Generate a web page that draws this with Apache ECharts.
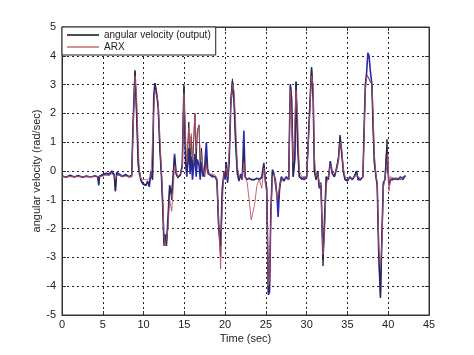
<!DOCTYPE html>
<html>
<head>
<meta charset="utf-8">
<script src="https://cdn.jsdelivr.net/npm/echarts@6/dist/echarts.min.js"></script>
<style>html,body{margin:0;padding:0;background:#fff;}#c{width:474px;height:355px;}</style>
</head>
<body>
<div id="c"></div>
<script>
const xTicks = [0, 5, 10, 15, 20, 25, 30, 35, 40, 45];
const yTicks = [-5, -4, -3, -2, -1, 0, 1, 2, 3, 4, 5];
const seriesNames = ['angular velocity (output)', 'ARX'];

const timeSec = [
0.0, 0.5, 1.0, 1.5, 2.0, 2.5, 3.0, 3.5, 4.0, 4.4,
4.5, 4.6, 5.0, 5.4, 5.8, 6.1, 6.4, 6.55, 6.7, 7.0,
7.4, 7.8, 8.2, 8.55, 8.7, 8.95, 9.15, 9.35, 9.5, 9.7,
9.9, 10.1, 10.3, 10.5, 10.7, 10.9, 11.1, 11.25, 11.4, 11.6,
11.8, 12.0, 12.2, 12.35, 12.5, 12.65, 12.8, 13.0, 13.2, 13.45,
13.6, 13.8, 14.0, 14.2, 14.5, 14.75, 14.95, 15.15, 15.3, 15.55,
15.7, 15.85, 16.0, 16.3, 16.45, 16.6, 16.8, 16.95, 17.1, 17.3,
17.5, 17.7, 17.85, 18.0, 18.4, 18.8, 19.0, 19.2, 19.45, 19.65,
19.85, 20.0, 20.15, 20.3, 20.5, 20.7, 20.9, 21.1, 21.3, 21.5,
21.7, 21.9, 22.1, 22.3, 22.45, 22.7, 22.95, 23.2, 23.35, 23.6,
23.9, 24.2, 24.5, 24.75, 24.95, 25.1, 25.2, 25.3, 25.45, 25.6,
25.8, 26.0, 26.2, 26.35, 26.5, 26.7, 26.9, 27.2, 27.5, 27.8,
27.9, 28.0, 28.15, 28.35, 28.55, 28.7, 28.9, 29.1, 29.4, 29.7,
30.0, 30.2, 30.35, 30.6, 30.8, 30.95, 31.15, 31.35, 31.55, 31.75,
31.85, 32.0, 32.2, 32.4, 32.65, 32.9, 33.15, 33.4, 33.7, 33.9,
34.1, 34.3, 34.5, 34.7, 35.0, 35.3, 35.6, 35.9, 36.1, 36.3,
36.6, 36.9, 37.05, 37.2, 37.35, 37.5, 37.65, 37.8, 38.0, 38.15,
38.3, 38.5, 38.65, 38.85, 39.05, 39.25, 39.4, 39.6, 39.85, 39.95,
40.1, 40.3, 40.6, 40.9, 41.2, 41.5, 41.8, 42.1
];

const outputVel = [
-0.18, -0.2, -0.17, -0.2, -0.18, -0.2, -0.17, -0.2, -0.18, -0.2,
-0.45, -0.2, -0.15, -0.1, -0.15, -0.05, -0.15, -0.7, -0.1, -0.15,
-0.2, -0.15, -0.2, -0.2, 1.5, 3.5, 2.0, 0.3, 0.0, -0.3,
-0.4, -0.35, -0.5, -0.4, -0.5, -0.1, -0.3, 2.5, 3.05, 2.7,
2.2, 0.8, -0.2, -1.2, -2.6, -2.3, -2.6, -1.8, -0.5, -1.0,
-0.3, 0.5, -0.1, -0.25, -0.15, 0.2, 3.0, 0.5, 0.0, 1.7,
0.2, 1.2, 0.1, 2.0, 0.3, 1.4, 1.6, 0.0, 0.8, -0.1,
-0.2, 0.5, -0.1, -0.15, -0.15, -0.2, -0.4, -2.0, -3.0, -0.8,
0.0, -0.2, 0.3, -0.4, 0.5, 2.5, 3.2, 2.5, 1.0, 0.0,
-0.3, -0.2, -0.3, 0.8, -0.2, -0.3, -0.25, -0.3, -0.25, -0.3,
-0.25, -0.3, -0.25, 0.2, -0.3, -0.6, -2.5, -4.2, -4.0, -1.5,
0.0, -0.15, -0.3, -0.9, -1.0, -0.6, -0.3, -0.3, -0.25, -0.3,
1.5, 3.0, 2.6, -0.2, 0.5, 3.1, 1.0, -0.2, -0.3, -0.2,
-0.25, -0.2, 2.0, 3.6, 2.5, 0.0, -0.3, 0.0, -0.5, -0.4,
-1.5, -3.3, -1.8, -0.2, -0.3, 0.3, -0.1, -0.2, 0.2, 0.5,
1.25, 0.6, 0.0, -0.3, -0.3, -0.25, -0.3, -0.2, 0.0, -0.25,
-0.3, -0.2, 1.5, 3.0, 3.35, 3.3, 3.2, 3.1, 3.0, 1.5,
0.3, -0.2, -0.5, -3.0, -4.4, -2.0, -0.5, -0.3, 1.1, 0.2,
-0.4, -0.3, -0.25, -0.3, -0.25, -0.3, -0.2, -0.2
];

const arxVel = [
-0.2, -0.2, -0.2, -0.2, -0.2, -0.2, -0.2, -0.2, -0.2, -0.2,
-0.25, -0.2, -0.18, -0.15, -0.15, -0.1, -0.15, -0.3, -0.15, -0.15,
-0.18, -0.18, -0.2, -0.2, 1.2, 3.3, 2.6, 0.8, 0.0, -0.3,
-0.3, -0.3, -0.35, -0.3, -0.35, -0.2, -0.2, 2.0, 2.8, 2.8,
2.4, 1.2, 0.0, -0.8, -2.2, -2.6, -2.4, -2.0, -1.0, -1.4,
-0.8, 0.2, 0.0, -0.2, -0.1, 0.1, 2.7, 1.2, 0.3, 1.5,
0.8, 1.3, 0.4, 2.0, 0.8, 1.3, 1.6, 0.5, 0.6, 0.0,
-0.1, 0.2, -0.1, -0.1, -0.1, -0.15, -0.3, -1.6, -3.4, -1.2,
-0.1, -0.1, 0.1, -0.2, 0.6, 2.3, 3.0, 2.8, 1.6, 0.2,
-0.2, -0.2, -0.3, 0.3, -0.2, -0.4, -1.0, -1.7, -1.75, -1.2,
-0.5, -0.3, -0.6, 0.1, -0.4, -0.8, -2.3, -4.0, -3.8, -1.8,
-0.2, -0.1, -0.4, -1.0, -0.8, -0.5, -0.3, -0.25, -0.25, -0.3,
1.2, 2.8, 2.8, 0.3, 0.3, 2.8, 1.8, 0.0, -0.2, -0.2,
-0.2, -0.2, 1.8, 3.3, 3.0, 0.5, -0.2, -0.1, -0.4, -0.6,
-1.6, -2.9, -2.2, -0.5, -0.2, 0.2, 0.0, -0.1, 0.1, 0.4,
1.0, 0.8, 0.1, -0.2, -0.25, -0.25, -0.25, -0.2, -0.1, -0.2,
-0.25, -0.2, 1.2, 2.8, 3.3, 3.3, 3.2, 3.1, 3.0, 2.0,
0.6, -0.1, -0.4, -2.6, -3.3, -2.4, -0.6, -0.6, 0.2, 0.6,
-0.7, -0.2, -0.25, -0.25, -0.25, -0.25, -0.25, -0.2
];

const measuredVel = [
-0.17, -0.22, -0.15, -0.21, -0.16, -0.22, -0.18, -0.21, -0.17, -0.2,
-0.5, -0.18, -0.12, -0.08, -0.1, 0.0, -0.12, -0.7, -0.05, -0.1,
-0.18, -0.12, -0.2, -0.15, 1.5, 3.45, 2.0, 0.2, -0.1, -0.35,
-0.45, -0.4, -0.5, -0.35, -0.55, 0.0, -0.3, 2.6, 3.05, 2.7,
2.2, 0.8, -0.2, -1.2, -2.5, -2.2, -2.6, -1.6, -0.5, -0.8,
-0.3, 0.6, -0.1, -0.2, -0.15, 0.2, 2.9, 0.3, -0.2, 0.8,
-0.1, 0.5, -0.3, 0.6, -0.2, 0.4, 0.2, -0.3, 0.3, -0.2,
0.2, 1.0, 0.1, -0.1, -0.2, -0.2, -0.3, -1.8, -2.6, -0.6,
-0.1, -0.3, 0.3, -0.4, 0.3, 2.3, 3.1, 2.4, 0.9, -0.1,
-0.35, -0.1, -0.3, 1.4, -0.2, -0.3, -0.25, -0.3, -0.25, -0.3,
-0.25, -0.3, -0.2, 0.28, -0.4, -0.6, -2.4, -4.3, -4.2, -1.5,
0.05, -0.1, -0.5, -0.8, -1.6, -0.5, -0.2, -0.35, -0.2, -0.3,
1.5, 3.0, 2.5, -0.2, 0.4, 3.1, 0.8, -0.2, -0.25, -0.3,
-0.2, -0.15, 2.0, 3.6, 2.5, 0.0, -0.3, 0.0, -0.6, -0.5,
-1.4, -3.1, -1.6, -0.2, -0.3, 0.34, -0.1, -0.2, 0.1, 0.4,
1.2, 0.6, 0.0, -0.3, -0.35, -0.2, -0.3, -0.15, 0.0, -0.3,
-0.3, -0.2, 1.5, 3.0, 3.4, 4.1, 4.0, 3.5, 3.0, 1.5,
0.3, -0.2, -0.5, -3.0, -4.4, -2.0, -0.4, -0.3, 0.8, 0.1,
-0.5, -0.3, -0.3, -0.25, -0.3, -0.2, -0.3, -0.15
];

function pairs(vals) { return timeSec.map((t, i) => [t, vals[i]]); }

const font = 'Liberation Sans, Arial, sans-serif';
const chart = echarts.init(document.getElementById('c'), null, { renderer: 'canvas' });

const tickLabelStyle = { color: '#222', fontSize: 11, fontFamily: font };
const gridLine = { show: true, lineStyle: { color: '#222', width: 1, type: [2, 3] } };

chart.setOption({
  animation: false,
  backgroundColor: '#fff',
  grid: { left: 62, right: 45, top: 27, bottom: 40, show: true, borderColor: '#333', borderWidth: 1 },
  legend: {
    data: seriesNames.map(n => ({ name: n, icon: 'rect' })),
    orient: 'vertical',
    left: 62, top: 27,
    itemWidth: 32, itemHeight: 1.5, itemGap: 2,
    padding: [3, 5, 3, 5],
    backgroundColor: '#fff',
    borderColor: '#222', borderWidth: 1,
    textStyle: { color: '#222', fontSize: 10, fontFamily: font }
  },
  xAxis: [{
    type: 'value', min: 0, max: 45, interval: 5,
    name: 'Time (sec)', nameLocation: 'middle', nameGap: 18, nameMoveOverlap: false,
    nameTextStyle: { color: '#222', fontSize: 11, fontFamily: font, verticalAlign: 'top' },
    axisLine: { show: true, onZero: false, lineStyle: { color: '#333' } },
    axisTick: { show: true, inside: true, length: 4, lineStyle: { color: '#333' } },
    axisLabel: Object.assign({ margin: 4, formatter: v => xTicks.includes(v) ? String(v) : '' }, tickLabelStyle),
    splitLine: gridLine
  }, {
    type: 'value', min: 0, max: 45, interval: 5, position: 'top',
    axisLine: { show: true, onZero: false, lineStyle: { color: '#333' } },
    axisTick: { show: true, inside: true, length: 4, lineStyle: { color: '#333' } },
    axisLabel: { show: false }, splitLine: { show: false }
  }],
  yAxis: [{
    type: 'value', min: -5, max: 5, interval: 1,
    name: 'angular velocity (rad/sec)', nameLocation: 'middle', nameGap: 20, nameMoveOverlap: false,
    nameTextStyle: { color: '#222', fontSize: 11, fontFamily: font, verticalAlign: 'bottom' },
    axisLine: { show: true, onZero: false, lineStyle: { color: '#333' } },
    axisTick: { show: true, inside: true, length: 4, lineStyle: { color: '#333' } },
    axisLabel: Object.assign({ margin: 6, formatter: v => yTicks.includes(v) ? String(v) : '' }, tickLabelStyle),
    splitLine: gridLine
  }, {
    type: 'value', min: -5, max: 5, interval: 1, position: 'right',
    axisLine: { show: true, onZero: false, lineStyle: { color: '#333' } },
    axisTick: { show: true, inside: true, length: 4, lineStyle: { color: '#333' } },
    axisLabel: { show: false }, splitLine: { show: false }
  }],
  series: [
    { name: 'measured', type: 'line', data: pairs(measuredVel), showSymbol: false, symbol: 'none',
      lineStyle: { color: '#2a2ab0', width: 1.6 }, itemStyle: { color: '#2a2ab0' }, z: 2 },
    { name: seriesNames[0], type: 'line', data: pairs(outputVel), showSymbol: false, symbol: 'none',
      lineStyle: { color: '#2a2a3a', width: 1 }, itemStyle: { color: '#111' }, z: 3 },
    { name: seriesNames[1], type: 'line', data: pairs(arxVel), showSymbol: false, symbol: 'none',
      lineStyle: { color: '#b8505e', width: 1, opacity: 0.85 }, itemStyle: { color: '#c07070' }, z: 4 }
  ]
});
</script>
</body>
</html>
